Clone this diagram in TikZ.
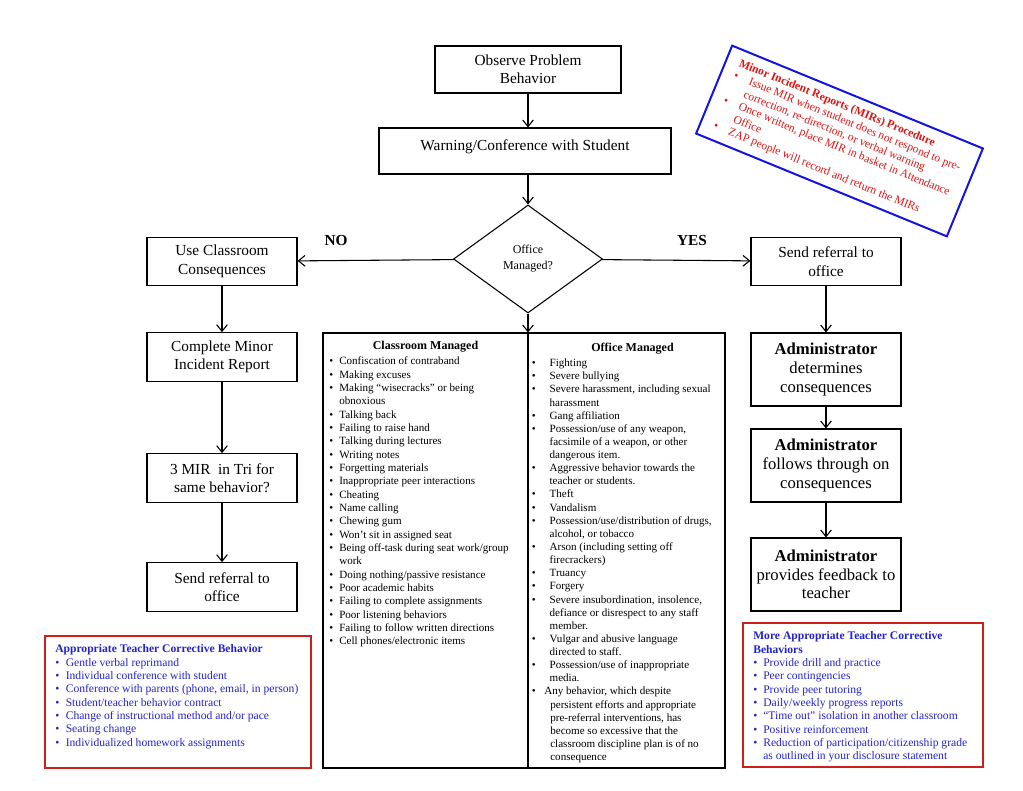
\documentclass[tikz,border=0pt]{standalone}
\usepackage{fontspec}
\setmainfont{Liberation Serif}
\usetikzlibrary{shapes.geometric, arrows.meta}

\definecolor{mirred}{RGB}{220,20,20}
\definecolor{mirblue}{RGB}{20,20,225}
\definecolor{tipblue}{RGB}{35,35,200}
\definecolor{tipred}{RGB}{205,30,30}

\newcommand{\itm}[1]{\makebox[#1][l]{\textbullet}}
\newcommand{\cnt}[1]{\hspace*{#1}}

\begin{document}
\begin{tikzpicture}[
    x=0.75pt, y=-0.75pt,
    box/.style={rectangle, draw, line width=0.8pt, align=center, inner sep=0pt,
                font=\fontsize{11.5}{13.8}\selectfont},
    colbox/.style={box, minimum width=112.5pt, minimum height=36.5pt},
    admbox/.style={colbox, minimum height=54.75pt, font=\fontsize{12.5}{13.9}\selectfont},
    decision/.style={diamond, draw, line width=0.8pt, inner sep=0pt, align=center,
                minimum width=111.75pt, minimum height=81pt, font=\fontsize{9}{12}\selectfont},
    answer/.style={font=\bfseries\fontsize{11.5}{13}\selectfont},
    listframe/.style={rectangle, draw, line width=0.8pt, inner sep=0pt, minimum height=326.25pt},
    listhead/.style={font=\bfseries\fontsize{9}{11}\selectfont},
    listbody/.style={anchor=north west, inner sep=0pt, align=left,
                font=\fontsize{8.3}{#1}\selectfont},
    tipbox/.style={rectangle, draw=tipred, line width=1.5pt, inner sep=0pt},
    tiptext/.style={anchor=north west, inner sep=0pt, align=left, text=tipblue,
                font=\fontsize{8.7}{10}\selectfont},
    mirbox/.style={rectangle, draw=mirblue, line width=1.5pt, text=mirred, rotate=-22.3,
                minimum width=203.25pt, minimum height=71.25pt, inner sep=0pt,
                align=left, font=\fontsize{8.7}{10.1}\selectfont},
    arr/.style={-{Straight Barb[length=5pt,width=8pt]}, line width=0.8pt}
]
\useasboundingbox (0,0) rectangle (1023,791);

\node[box, minimum width=139.5pt, minimum height=35.25pt] (obs) at (528, 69.5) {Observe Problem\\Behavior};
\node[box, minimum width=219pt, minimum height=34.5pt, text height=8pt, text depth=8pt] (warn) at (525, 151) {Warning/Conference with Student};
\node[decision] (dia) at (528, 259) {Office\\Managed?};

\node[colbox] (usecc) at (222, 261.5) {Use Classroom\\Consequences};
\node[colbox] (cmir) at (222, 357) {Complete Minor\\Incident Report};
\node[colbox] (tri) at (222, 478) {3 MIR~ in Tri for\\same behavior?};
\node[colbox] (sref) at (222, 587) {Send referral to\\office};

\node[colbox] (oref) at (826, 261.5) {Send referral to\\office};
\node[admbox] (adm1) at (826, 369.5) {\textbf{Administrator}\\determines\\consequences};
\node[admbox] (adm2) at (826, 465.5) {\textbf{Administrator}\\follows through on\\consequences};
\node[admbox] (adm3) at (826, 574.5) {\textbf{Administrator}\\provides feedback to\\teacher};

\node[answer] (no) at (336, 240) {NO};
\node[answer] (yes) at (692, 240) {YES};

\node[listframe, minimum width=153.75pt] (cmf) at (425.5, 550.5) {};
\node[listframe, minimum width=147.75pt] (omf) at (626.5, 550.5) {};
\node[listhead] (cmh) at (425.5, 347) {Classroom Managed};
\node[listhead] (omh) at (632.5, 349) {Office Managed};

\node[listbody=10pt] (cml) at (329, 356.7) {%
\itm{7.5pt}Confiscation of contraband\\
\itm{7.5pt}Making excuses\\
\itm{7.5pt}Making “wisecracks” or being\\
\cnt{7.5pt}obnoxious\\
\itm{7.5pt}Talking back\\
\itm{7.5pt}Failing to raise hand\\
\itm{7.5pt}Talking during lectures\\
\itm{7.5pt}Writing notes\\
\itm{7.5pt}Forgetting materials\\
\itm{7.5pt}Inappropriate peer interactions\\
\itm{7.5pt}Cheating\\
\itm{7.5pt}Name calling\\
\itm{7.5pt}Chewing gum\\
\itm{7.5pt}Won’t sit in assigned seat\\
\itm{7.5pt}Being off-task during seat work/group\\
\cnt{7.5pt}work\\
\itm{7.5pt}Doing nothing/passive resistance\\
\itm{7.5pt}Poor academic habits\\
\itm{7.5pt}Failing to complete assignments\\
\itm{7.5pt}Poor listening behaviors\\
\itm{7.5pt}Failing to follow written directions\\
\itm{7.5pt}Cell phones/electronic items};

\node[listbody=9.85pt] (oml) at (531.5, 358.7) {%
\itm{13.4pt}Fighting\\
\itm{13.4pt}Severe bullying\\
\itm{13.4pt}Severe harassment, including sexual\\
\cnt{13.4pt}harassment\\
\itm{13.4pt}Gang affiliation\\
\itm{13.4pt}Possession/use of any weapon,\\
\cnt{13.4pt}facsimile of a weapon, or other\\
\cnt{13.4pt}dangerous item.\\
\itm{13.4pt}Aggressive behavior towards the\\
\cnt{13.4pt}teacher or students.\\
\itm{13.4pt}Theft\\
\itm{13.4pt}Vandalism\\
\itm{13.4pt}Possession/use/distribution of drugs,\\
\cnt{13.4pt}alcohol, or tobacco\\
\itm{13.4pt}Arson (including setting off\\
\cnt{13.4pt}firecrackers)\\
\itm{13.4pt}Truancy\\
\itm{13.4pt}Forgery\\
\itm{13.4pt}Severe insubordination, insolence,\\
\cnt{13.4pt}defiance or disrespect to any staff\\
\cnt{13.4pt}member.\\
\itm{13.4pt}Vulgar and abusive language\\
\cnt{13.4pt}directed to staff.\\
\itm{13.4pt}Possession/use of inappropriate\\
\cnt{13.4pt}media.\\
\itm{9.4pt}Any behavior, which despite\\
\cnt{13.9pt}persistent efforts and appropriate\\
\cnt{13.9pt}pre-referral interventions, has\\
\cnt{13.9pt}become so excessive that the\\
\cnt{13.9pt}classroom discipline plan is of no\\
\cnt{13.9pt}consequence};

\node[tipbox, minimum width=199.5pt, minimum height=99pt] (tcb) at (178, 702) {};
\node[tiptext] (tcl) at (55, 644.5) {%
\textbf{Appropriate Teacher Corrective Behavior}\\
\itm{7.9pt}Gentle verbal reprimand\\
\itm{7.9pt}Individual conference with student\\
\itm{7.9pt}Conference with parents (phone, email, in person)\\
\itm{7.9pt}Student/teacher behavior contract\\
\itm{7.9pt}Change of instructional method and/or pace\\
\itm{7.9pt}Seating change\\
\itm{7.9pt}Individualized homework assignments};

\node[tipbox, minimum width=180pt, minimum height=108pt] (mtcb) at (863, 695) {};
\node[tiptext] (mtcl) at (753, 631.5) {%
\textbf{More Appropriate Teacher Corrective}\\
\textbf{Behaviors}\\
\itm{7.5pt}Provide drill and practice\\
\itm{7.5pt}Peer contingencies\\
\itm{7.5pt}Provide peer tutoring\\
\itm{7.5pt}Daily/weekly progress reports\\
\itm{7.5pt}“Time out” isolation in another classroom\\
\itm{7.5pt}Positive reinforcement\\
\itm{7.5pt}Reduction of participation/citizenship grade\\
\cnt{7.5pt}as outlined in your disclosure statement};

\node[mirbox] (mir) at (839.5, 141) {%
\textbf{Minor Incident Reports (MIRs) Procedure}\\
\itm{12pt}Issue MIR when student does not respond to pre-\\
\cnt{12pt}correction, re-direction, or verbal warning\\
\itm{12pt}Once written, place MIR in basket in Attendance\\
\cnt{12pt}Office\\
\itm{12pt}ZAP people will record and return the MIRs};

\draw[arr] (obs.south) -- (obs.south |- warn.north);
\draw[arr] (dia.north |- warn.south) -- (dia.north);
\draw[arr] (dia) -- (usecc);
\draw[arr] (dia) -- (oref);
\draw[arr] (dia.south) -- (dia.south |- cmf.north);
\draw[arr] (usecc) -- (cmir);
\draw[arr] (cmir) -- (tri);
\draw[arr] (tri) -- (sref);
\draw[arr] (oref) -- (adm1);
\draw[arr] (adm1) -- (adm2);
\draw[arr] (adm2) -- (adm3);
\end{tikzpicture}
\end{document}
